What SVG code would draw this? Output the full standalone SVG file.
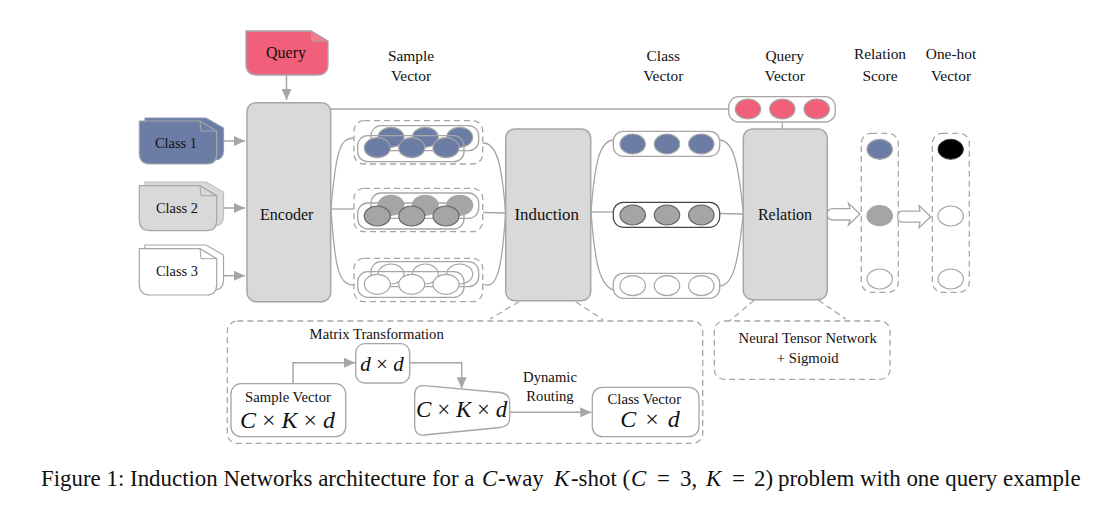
<svg xmlns="http://www.w3.org/2000/svg" width="1098" height="512" viewBox="0 0 1098 512">
<style>
text{font-family:"Liberation Serif","Times New Roman",serif;fill:#111;text-anchor:middle}
.t{font-size:16px}
.l{font-size:15.4px}
.s{font-size:14.7px}
.cl{font-size:14.4px}
.m{font-size:24px}
.i{font-style:italic}
.cap{font-size:22.9px;text-anchor:start}
.n{fill:#d9d9d9;stroke:#a6a6a6;stroke-width:1.5}
.w{fill:#fff;stroke:#a6a6a6;stroke-width:1.3}
.d{fill:none;stroke:#a6a6a6;stroke-width:1.3;stroke-dasharray:6 4}
.c{fill:none;stroke:#a6a6a6;stroke-width:1.3}
.a{fill:none;stroke:#a6a6a6;stroke-width:1.5;marker-end:url(#h)}
.b{fill:#6b7ca5;stroke:#a6a6a6;stroke-width:1.2}
.g{fill:#a5a5a5;stroke:#a5a5a5;stroke-width:1.2}
.gd{fill:#a5a5a5;stroke:#666;stroke-width:1.2}
.o{fill:#fff;stroke:#a6a6a6;stroke-width:1.2}
.p{fill:#f25f7a;stroke:#a6a6a6;stroke-width:1.2}
.k{fill:#000;stroke:#333;stroke-width:1}
</style>
<defs>
<marker id="h" markerUnits="userSpaceOnUse" markerWidth="11" markerHeight="10" refX="11" refY="5" orient="auto"><path d="M0 0L11 5L0 10z" fill="#a6a6a6"/></marker>
</defs>
<g id="connectors">
<path class="a" d="M286.500 75V100"/>
<path class="a" d="M223 141H245"/>
<path class="a" d="M223 208H245"/>
<path class="a" d="M223 275.700H245"/>
<path class="c" d="M330 109H729"/>
<path class="c" d="M782.300 122V129"/>
<path class="c" d="M331 209C336 150 340 138 354 138"/>
<path class="c" d="M331 209H354"/>
<path class="c" d="M331 209C335 270 339 285 354 285"/>
<path class="c" d="M483 143C497 143 502 165 505.500 213"/>
<path class="c" d="M483 212.500L505.500 213"/>
<path class="c" d="M483 284C497 290 502 270 505.500 213"/>
<path class="c" d="M591 212C595 160 600 141 613.300 140"/>
<path class="c" d="M591 212H613.300"/>
<path class="c" d="M591 212C595 265 600 285 613.300 290"/>
<path class="c" d="M719.700 140C733 141 738 160 743.300 213"/>
<path class="c" d="M719.700 213.500L743.300 214"/>
<path class="c" d="M719.700 286C733 285 738 265 743.300 213"/>
<path class="d" d="M519 301.700L490 319"/>
<path class="d" d="M576 302L603.300 320"/>
<path class="d" d="M754.300 300L730 320.700"/>
<path class="d" d="M818.300 300L845.700 319"/>
<path class="a" d="M293 383.700V362.700H355"/>
<path class="a" d="M409.700 362.700H461.700V388.300"/>
<path class="a" d="M509.700 412.300H591.300"/>
</g>
<g id="query">
<path d="M246 31H311L328 41V64Q328 75 317 75H257Q246 75 246 64Z" fill="#f25f7a" stroke="#a6a6a6" stroke-width="1.3"/>
<path d="M311 31L312 41H328Z" fill="#f5798f" stroke="#a6a6a6" stroke-width="1"/>
<text class="t" x="286" y="58">Query</text>
</g>
<g id="class1">
<path d="M145 118H206L223.500 128V150Q223.500 160 214 160H145Z" fill="#6b7ca5" stroke="#8d99b5" stroke-width="1.2"/>
<path d="M139.300 121H200L216.700 131V154Q216.700 164 207 164H150Q139.300 164 139.300 153Z" fill="#6b7ca5" stroke="#a6a6a6" stroke-width="1.2"/>
<path d="M200 121L201 131H216.700" fill="none" stroke="#a6a6a6" stroke-width="1"/>
<text class="cl" x="176" y="148">Class 1</text>
</g>
<g id="class2">
<path d="M145 182H206L223.500 192V216Q223.500 226 214 226H145Z" fill="#d9d9d9" stroke="#c0c0c0" stroke-width="1.2"/>
<path d="M139.300 185.700H200L216.700 195.700V220Q216.700 230.700 207 230.700H150Q139.300 230.700 139.300 220Z" fill="#d9d9d9" stroke="#a6a6a6" stroke-width="1.2"/>
<path d="M200 185.700L201 195.700H216.700" fill="none" stroke="#a6a6a6" stroke-width="1"/>
<text class="cl" x="177" y="213">Class 2</text>
</g>
<g id="class3">
<path d="M145 245H206L223.500 255V280Q223.500 290 214 290H145Z" fill="#fff" stroke="#a6a6a6" stroke-width="1.2"/>
<path d="M139.300 248.700H200L216.700 258.700V284Q216.700 295 207 295H150Q139.300 295 139.300 284Z" fill="#fff" stroke="#a6a6a6" stroke-width="1.2"/>
<path d="M200 248.700L201 258.700H216.700" fill="none" stroke="#a6a6a6" stroke-width="1"/>
<text class="cl" x="177" y="276">Class 3</text>
</g>
<g id="encoder">
<rect class="n" x="247" y="102.700" width="83.700" height="199" rx="9"/>
<text class="t" x="286.700" y="219.500">Encoder</text>
</g>
<g id="sample-vector-label">
<text class="l" x="411" y="61">Sample</text>
<text class="l" x="411" y="81">Vector</text>
</g>
<g id="sample-row-1">
<rect class="d" x="354" y="120.700" width="128.700" height="43.300" rx="10"/>
<rect class="c" x="371" y="125.700" width="107.700" height="25" rx="10"/>
<ellipse class="b" cx="391" cy="137.300" rx="13" ry="10"/><ellipse class="b" cx="425.300" cy="137.300" rx="13" ry="10"/><ellipse class="b" cx="459.700" cy="137.300" rx="13" ry="10"/>
<rect class="c" x="357.700" y="135.700" width="106.300" height="26" rx="10"/>
<ellipse class="b" cx="377.300" cy="147.700" rx="13" ry="10"/><ellipse class="b" cx="411.700" cy="147.700" rx="13" ry="10"/><ellipse class="b" cx="446" cy="147.700" rx="13" ry="10"/>
</g>
<g id="sample-row-2">
<rect class="d" x="354" y="188.300" width="128.700" height="43.400" rx="10"/>
<rect class="c" x="371" y="193" width="107.700" height="25.300" rx="10"/>
<ellipse class="g" cx="391" cy="205.300" rx="13" ry="10"/><ellipse class="g" cx="425.300" cy="205.300" rx="13" ry="10"/><ellipse class="g" cx="459.700" cy="205.300" rx="13" ry="10"/>
<rect class="c" x="357.700" y="203" width="106.300" height="26" rx="10"/>
<ellipse class="gd" cx="377.300" cy="216" rx="13" ry="10"/><ellipse class="gd" cx="411.700" cy="216" rx="13" ry="10"/><ellipse class="gd" cx="446" cy="216" rx="13" ry="10"/>
</g>
<g id="sample-row-3">
<rect class="d" x="354" y="258.300" width="128.700" height="43.400" rx="10"/>
<rect class="c" x="371" y="261.700" width="107.700" height="25" rx="10"/>
<ellipse class="o" cx="391" cy="274" rx="13" ry="10"/><ellipse class="o" cx="425.300" cy="274" rx="13" ry="10"/><ellipse class="o" cx="459.700" cy="274" rx="13" ry="10"/>
<rect class="c" x="357.700" y="271.700" width="106.300" height="25.600" rx="10"/>
<ellipse class="o" cx="377.300" cy="284.300" rx="13" ry="10"/><ellipse class="o" cx="411.700" cy="284.300" rx="13" ry="10"/><ellipse class="o" cx="446" cy="284.300" rx="13" ry="10"/>
</g>
<g id="induction">
<rect class="n" x="505.700" y="129" width="85" height="171.700" rx="9"/>
<text x="546.700" y="220" font-size="16.800">Induction</text>
</g>
<g id="class-vector-label">
<text class="l" x="663.300" y="61">Class</text>
<text class="l" x="663.300" y="81">Vector</text>
</g>
<g id="class-row-1">
<rect class="w" x="613.300" y="131.300" width="106.400" height="25" rx="10"/>
<ellipse class="b" cx="632.700" cy="144" rx="12.700" ry="10"/><ellipse class="b" cx="667" cy="144" rx="12.700" ry="10"/><ellipse class="b" cx="701.300" cy="144" rx="12.700" ry="10"/>
</g>
<g id="class-row-2">
<rect x="613.300" y="202.300" width="106.400" height="25" rx="10" fill="#fff" stroke="#444" stroke-width="1.2"/>
<ellipse class="gd" cx="632.700" cy="215" rx="12.700" ry="10"/><ellipse class="gd" cx="667" cy="215" rx="12.700" ry="10"/><ellipse class="gd" cx="701.300" cy="215" rx="12.700" ry="10"/>
</g>
<g id="class-row-3">
<rect class="w" x="613.300" y="273.300" width="106.400" height="25" rx="10"/>
<ellipse class="o" cx="632.700" cy="285.700" rx="12.700" ry="10"/><ellipse class="o" cx="667" cy="285.700" rx="12.700" ry="10"/><ellipse class="o" cx="701.300" cy="285.700" rx="12.700" ry="10"/>
</g>
<g id="query-vector-label">
<text class="l" x="784.700" y="61">Query</text>
<text class="l" x="784.700" y="81">Vector</text>
</g>
<g id="query-vector">
<rect class="w" x="728.700" y="96.700" width="106.600" height="25.300" rx="10"/>
<ellipse class="p" cx="748" cy="109" rx="12.700" ry="10"/><ellipse class="p" cx="782.300" cy="109" rx="12.700" ry="10"/><ellipse class="p" cx="816.700" cy="109" rx="12.700" ry="10"/>
</g>
<g id="relation">
<rect class="n" x="743.300" y="129" width="84" height="170.700" rx="9"/>
<text class="t" x="785" y="220">Relation</text>
</g>
<g id="block-arrow-1">
<path class="w" d="M833 208.700H850L848.500 203.300L860 214L848.500 225L850 220H833Q827.300 220 827.300 214.300Q827.300 208.700 833 208.700Z"/>
</g>
<g id="relation-score-label">
<text class="l" x="880" y="59">Relation</text>
<text class="l" x="880" y="81">Score</text>
</g>
<g id="relation-score">
<rect class="d" x="861.300" y="133.300" width="37" height="159" rx="10"/>
<ellipse class="b" cx="879.700" cy="149.300" rx="12.700" ry="10"/>
<ellipse class="g" cx="879.700" cy="215.700" rx="12.700" ry="10"/>
<ellipse class="o" cx="879.700" cy="279" rx="12.700" ry="10"/>
</g>
<g id="block-arrow-2">
<path class="w" d="M903 211.200H920L919 205.600L930.700 216.700L919 227.700L920 222.200H903Q897.700 222.200 897.700 216.700Q897.700 211.200 903 211.200Z"/>
</g>
<g id="one-hot-label">
<text class="l" x="951" y="59">One-hot</text>
<text class="l" x="951" y="81">Vector</text>
</g>
<g id="one-hot">
<rect class="d" x="932.300" y="133.300" width="37" height="159" rx="10"/>
<ellipse class="k" cx="950.700" cy="149.300" rx="12.700" ry="10"/>
<ellipse class="o" cx="950.700" cy="216" rx="12.700" ry="10"/>
<ellipse class="o" cx="950.700" cy="279" rx="12.700" ry="10"/>
</g>
<g id="induction-detail">
<rect class="d" x="227.300" y="321" width="475.400" height="122.300" rx="10"/>
<text class="s" x="376.700" y="339">Matrix Transformation</text>
<text class="s" x="550" y="382.300">Dynamic</text>
<text class="s" x="550" y="400.700">Routing</text>
</g>
<g id="dxd">
<rect class="w" x="355.700" y="343.700" width="54" height="39.300" rx="9"/>
<text class="i" x="382" y="371" font-size="21px">d <tspan font-style="normal">×</tspan> d</text>
</g>
<g id="sample-vector">
<rect class="w" x="231" y="383.700" width="114.700" height="53" rx="10"/>
<text class="s" x="288" y="402">Sample Vector</text>
<text class="m i" x="287.500" y="428">C <tspan font-style="normal">×</tspan> K <tspan font-style="normal">×</tspan> d</text>
</g>
<g id="trapezoid">
<path class="w" d="M424 385.700L500 392.500Q509.700 393.500 509.700 402V418Q509.700 426.500 500 427.500L424 435Q414.700 435.500 414.700 426V395Q414.700 385 424 385.700Z"/>
<text class="i" x="461.700" y="417.300" font-size="23px">C <tspan font-style="normal">×</tspan> K <tspan font-style="normal">×</tspan> d</text>
</g>
<g id="class-vector">
<rect class="w" x="592.300" y="387.300" width="106.700" height="49.400" rx="10"/>
<text class="s" x="644.300" y="404">Class Vector</text>
<text class="m i" x="650" y="427.300" word-spacing="3px">C <tspan font-style="normal">×</tspan> d</text>
</g>
<g id="relation-detail">
<rect class="d" x="714.300" y="321" width="175.700" height="58.300" rx="10"/>
<text class="s" x="807.700" y="343.300">Neural Tensor Network</text>
<text class="s" x="807.700" y="362.700">+ Sigmoid</text>
</g>
<text id="caption" class="cap" y="485.500"><tspan x="41">Figure 1: Induction Networks architecture for a </tspan><tspan x="482" class="i">C</tspan><tspan x="498">-way </tspan><tspan x="554" class="i">K</tspan><tspan x="571">-shot (</tspan><tspan x="631" class="i">C</tspan><tspan x="657">=</tspan><tspan x="680">3,</tspan><tspan x="706" class="i">K</tspan><tspan x="732">=</tspan><tspan x="754">2)</tspan><tspan x="778">problem with one query example</tspan></text>
</svg>
